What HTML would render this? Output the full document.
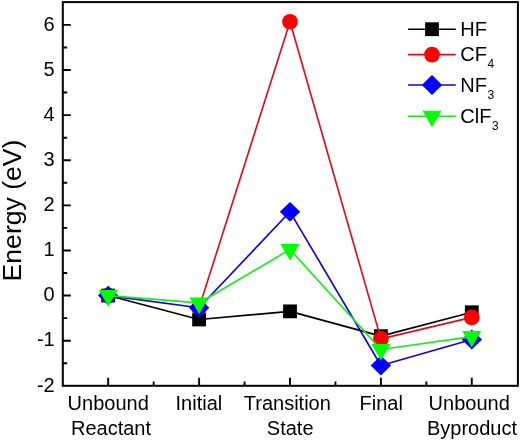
<!DOCTYPE html>
<html><head><meta charset="utf-8"><title>Energy diagram</title>
<style>
html,body{margin:0;padding:0;background:#fff;}
body{width:520px;height:441px;overflow:hidden;}
svg{display:block;}
text{font-family:"Liberation Sans",Arial,Helvetica,sans-serif;fill:#000;}
.t20{font-size:20px;}
.sub{font-size:12px;}
</style></head><body>
<svg width="520" height="441" viewBox="0 0 520 441">
<rect width="520" height="441" fill="#fff"/>

<polyline points="108.20,295.57 199.10,319.48 290.00,311.36 380.90,336.17 471.80,312.26" fill="none" stroke="#000" stroke-width="1.65" stroke-linejoin="round"/>
<rect x="101.30" y="288.67" width="13.80" height="13.80" fill="#000"/>
<rect x="192.20" y="312.58" width="13.80" height="13.80" fill="#000"/>
<rect x="283.10" y="304.46" width="13.80" height="13.80" fill="#000"/>
<rect x="374.00" y="329.27" width="13.80" height="13.80" fill="#000"/>
<rect x="464.90" y="305.36" width="13.80" height="13.80" fill="#000"/>
<polyline points="199.10,307.75 290.00,21.75 380.90,338.88 471.80,317.40" fill="none" stroke="#e00c1a" stroke-width="1.65" stroke-linejoin="round"/>
<circle cx="108.20" cy="295.57" r="7.85" fill="#f00"/>
<circle cx="199.10" cy="307.75" r="7.85" fill="#f00"/>
<circle cx="290.00" cy="21.75" r="7.85" fill="#f00"/>
<circle cx="380.90" cy="338.88" r="7.85" fill="#f00"/>
<circle cx="471.80" cy="317.40" r="7.85" fill="#f00"/>
<polyline points="108.20,295.57 199.10,307.75 290.00,211.80 380.90,365.49 471.80,339.51" fill="none" stroke="#1400d8" stroke-width="1.65" stroke-linejoin="round"/>
<polygon points="98.00,295.57 108.20,285.67 118.40,295.57 108.20,305.47" fill="#00f"/>
<polygon points="188.90,307.75 199.10,297.85 209.30,307.75 199.10,317.65" fill="#00f"/>
<polygon points="279.80,211.80 290.00,201.90 300.20,211.80 290.00,221.70" fill="#00f"/>
<polygon points="370.70,365.49 380.90,355.59 391.10,365.49 380.90,375.39" fill="#00f"/>
<polygon points="461.60,339.51 471.80,329.61 482.00,339.51 471.80,349.41" fill="#00f"/>
<polyline points="108.20,295.57 199.10,302.92 290.00,249.56 380.90,349.48 471.80,336.62" fill="none" stroke="#1ce81c" stroke-width="1.65" stroke-linejoin="round"/>
<polygon points="98.70,290.07 117.70,290.07 108.20,306.57" fill="#0f0"/>
<polygon points="189.60,297.42 208.60,297.42 199.10,313.92" fill="#0f0"/>
<polygon points="280.50,244.06 299.50,244.06 290.00,260.56" fill="#0f0"/>
<polygon points="371.40,343.98 390.40,343.98 380.90,360.48" fill="#0f0"/>
<polygon points="462.30,331.12 481.30,331.12 471.80,347.62" fill="#0f0"/>
<rect x="62.8" y="2.1" width="455.10" height="383.70" fill="none" stroke="#000" stroke-width="2"/>
<path d="M62.8 363.24h4.4 M62.8 340.68h8 M62.8 318.12h4.4 M62.8 295.57h8 M62.8 273.01h4.4 M62.8 250.46h8 M62.8 227.91h4.4 M62.8 205.35h8 M62.8 182.79h4.4 M62.8 160.24h8 M62.8 137.69h4.4 M62.8 115.13h8 M62.8 92.57h4.4 M62.8 70.02h8 M62.8 47.47h4.4 M62.8 24.91h8 M108.20 385.8v-8 M153.65 385.8v-4.4 M199.10 385.8v-8 M244.55 385.8v-4.4 M290.00 385.8v-8 M335.45 385.8v-4.4 M380.90 385.8v-8 M426.35 385.8v-4.4 M471.80 385.8v-8" stroke="#000" stroke-width="1.9" fill="none"/>
<text class="t20" x="54.7" y="391.59" text-anchor="end">-2</text>
<text class="t20" x="54.7" y="346.48" text-anchor="end">-1</text>
<text class="t20" x="54.7" y="301.37" text-anchor="end">0</text>
<text class="t20" x="54.7" y="256.26" text-anchor="end">1</text>
<text class="t20" x="54.7" y="211.15" text-anchor="end">2</text>
<text class="t20" x="54.7" y="166.04" text-anchor="end">3</text>
<text class="t20" x="54.7" y="120.93" text-anchor="end">4</text>
<text class="t20" x="54.7" y="75.82" text-anchor="end">5</text>
<text class="t20" x="54.7" y="30.71" text-anchor="end">6</text>
<text transform="translate(20.8,210.5) rotate(-90)" font-size="26.6" text-anchor="middle">Energy (eV)</text>
<text class="t20" x="108.2" y="410.4" text-anchor="middle">Unbound</text>
<text class="t20" x="111.0" y="434.8" text-anchor="middle">Reactant</text>
<text class="t20" x="198.9" y="410.4" text-anchor="middle">Initial</text>
<text class="t20" x="287.3" y="410.4" text-anchor="middle">Transition</text>
<text class="t20" x="290.2" y="434.8" text-anchor="middle">State</text>
<text class="t20" x="381.2" y="410.4" text-anchor="middle">Final</text>
<text class="t20" x="469.2" y="410.4" text-anchor="middle">Unbound</text>
<text class="t20" x="472.0" y="434.8" text-anchor="middle">Byproduct</text>
<path d="M408.1 29.2H455.8" stroke="#000" stroke-width="1.65"/>
<rect x="425.10" y="22.30" width="13.80" height="13.80" fill="#000"/>
<text class="t20" x="460.3" y="36.05">HF</text>
<path d="M408.1 54.6H455.8" stroke="#e00c1a" stroke-width="1.65"/>
<circle cx="432.00" cy="54.60" r="7.85" fill="#f00"/>
<text class="t20" x="460.3" y="61.45">CF<tspan class="sub" dx="0.6" dy="7">4</tspan></text>
<path d="M408.1 85.0H455.8" stroke="#1400d8" stroke-width="1.65"/>
<polygon points="421.80,85.00 432.00,75.10 442.20,85.00 432.00,94.90" fill="#00f"/>
<text class="t20" x="460.3" y="91.85">NF<tspan class="sub" dx="0.6" dy="7">3</tspan></text>
<path d="M408.1 116.2H455.8" stroke="#1ce81c" stroke-width="1.65"/>
<polygon points="422.50,110.70 441.50,110.70 432.00,127.20" fill="#0f0"/>
<text class="t20" x="460.3" y="123.05">ClF<tspan class="sub" dx="0.6" dy="7">3</tspan></text>
</svg></body></html>
